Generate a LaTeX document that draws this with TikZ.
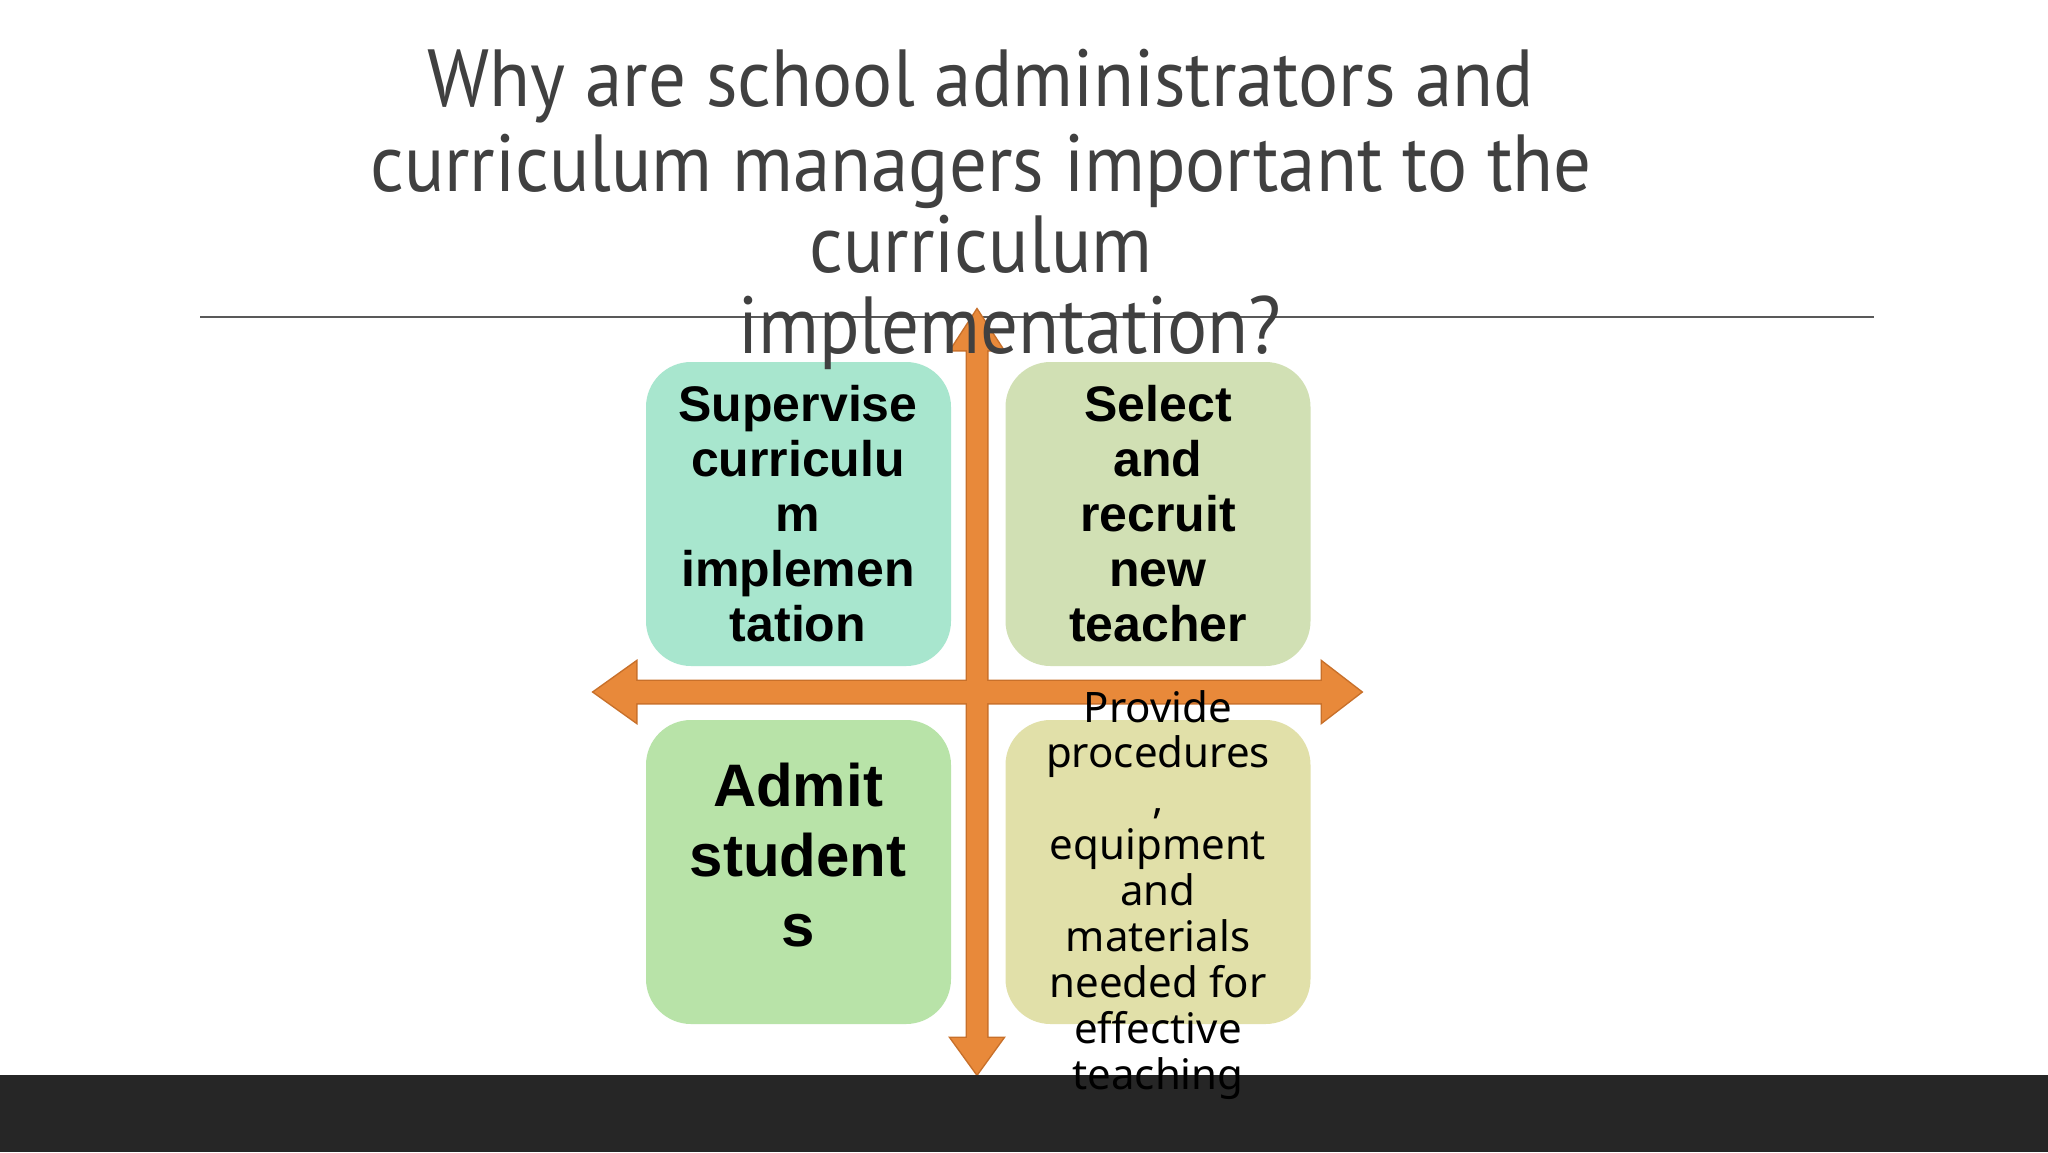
\documentclass[tikz,border=0pt]{standalone}
\usepackage{fontspec}
\newfontfamily\titlefont[FakeStretch=0.925]{PT Sans}
\newfontfamily\boxfont{Liberation Sans}
\newfontfamily\notefont{Noto Sans}
\definecolor{titlegray}{HTML}{404040}
\definecolor{rulegray}{HTML}{595959}
\definecolor{boxA}{HTML}{A8E6CE}
\definecolor{boxB}{HTML}{D1E0B4}
\definecolor{boxC}{HTML}{B8E3A8}
\definecolor{boxD}{HTML}{E1E0A9}
\definecolor{arrowfill}{HTML}{E8893A}
\definecolor{arrowedge}{HTML}{C8702A}
\definecolor{barcol}{HTML}{262626}
\tikzset{
  quad/.style={rounded corners=45pt, minimum width=305pt, minimum height=304pt, inner sep=0pt, draw=none},
  titletxt/.style={font=\titlefont\fontsize{81}{84}\selectfont, text=titlegray, inner sep=0pt, anchor=base},
  boldtxt/.style={font=\boxfont\bfseries\fontsize{50}{55}\selectfont, text=black, inner sep=0pt, anchor=base},
  bigbold/.style={font=\boxfont\bfseries\fontsize{60}{70}\selectfont, text=black, inner sep=0pt, anchor=base},
  notetxt/.style={font=\notefont\fontsize{42}{46}\selectfont, text=black, inner sep=0pt, anchor=base},
}
\begin{document}
\begin{tikzpicture}[x=1pt,y=-1pt]
\useasboundingbox (0,0) rectangle (2048,1152);
\fill[white] (0,0) rectangle (2048,1152);
% rule
\draw[rulegray, line width=2pt] (200,317) -- (1874,317);
% quadrant boxes
\node[quad, fill=boxA] (qa) at (798.5,514) {};
\node[quad, fill=boxB] (qb) at (1158,514) {};
\node[quad, fill=boxC] (qc) at (798.5,872) {};
\node[quad, fill=boxD] (qd) at (1158,872) {};
% cross arrows
\def\harrow{(594,692) -- (636,662) -- (636,681) -- (1322,681) -- (1322,662) -- (1361,692) -- (1322,722) -- (1322,703) -- (636,703) -- (636,722) -- cycle}
\def\varrow{(977,310) -- (1003,350) -- (987,350) -- (987,1038) -- (1003,1038) -- (977,1074) -- (951,1038) -- (967,1038) -- (967,350) -- (951,350) -- cycle}
\draw[arrowedge, line width=3pt, line join=miter] \harrow;
\draw[arrowedge, line width=3pt, line join=miter] \varrow;
\fill[arrowfill] \harrow;
\fill[arrowfill] \varrow;
% box texts
\foreach \t [count=\i] in {Supervise, curriculu, m, implemen, tation}
  \node[boldtxt] (sa\i) at (798, {421+(\i-1)*55}) {\t};
\foreach \t [count=\i] in {Select, and, recruit, new, teacher}
  \node[boldtxt] (sb\i) at (1158, {421+(\i-1)*55}) {\t};
\foreach \t [count=\i] in {Admit, student, s}
  \node[bigbold] (sc\i) at (798, {806+(\i-1)*70}) {\t};
% bottom bar
\fill[barcol] (0,1075) rectangle (2048,1152);
% title
\node[titletxt] (t1) at (981,106) {Why are school administrators and};
\node[titletxt] (t2) at (981,191) {curriculum managers important to the};
\node[titletxt] (t3) at (981,272) {curriculum};
\node[titletxt] (t4) at (1010,353) {implementation?};
% provide text
\foreach \t [count=\i] in {Provide, procedures, {,}, equipment, and, materials, needed for, effective, teaching}
  \node[notetxt] (sd\i) at (1158, {722+(\i-1)*45.9}) {\t};
\end{tikzpicture}
\end{document}
